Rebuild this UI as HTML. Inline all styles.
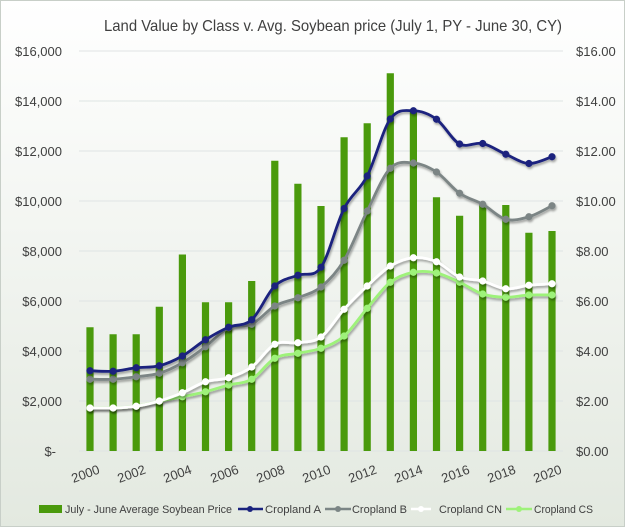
<!DOCTYPE html>
<html><head><meta charset="utf-8"><style>
html,body{margin:0;padding:0;}
body{width:625px;height:527px;overflow:hidden;font-family:"Liberation Sans",sans-serif;}
</style></head><body>
<svg id="s" width="625" height="527" xmlns="http://www.w3.org/2000/svg" font-family="Liberation Sans, sans-serif">
<defs>
<linearGradient id="bg" x1="0" y1="0" x2="0" y2="1">
<stop offset="0" stop-color="#ffffff"/><stop offset="1" stop-color="#e3e9e0"/>
</linearGradient>
<filter id="sh" x="-5%" y="-5%" width="110%" height="120%"><feDropShadow dx="1" dy="2" stdDeviation="1" flood-color="#000" flood-opacity="0.35"/></filter>
</defs>
<rect x="0.5" y="0.5" width="624" height="526" fill="url(#bg)" stroke="#c8cfc8"/>
<text x="104" y="31" font-size="16" fill="#404040" textLength="458" lengthAdjust="spacingAndGlyphs">Land Value by Class v. Avg. Soybean price (July 1, PY - June 30, CY)</text>
<g id="grid" stroke="#dfe4e4" stroke-width="1"></g>
<g font-size="13" fill="#404040" text-anchor="end">
<text x="62" y="56">$16,000</text><text x="62" y="106">$14,000</text><text x="62" y="156">$12,000</text><text x="62" y="206">$10,000</text><text x="62" y="256">$8,000</text><text x="62" y="306">$6,000</text><text x="62" y="356">$4,000</text><text x="62" y="406">$2,000</text><text x="56" y="456">$-</text>
</g>
<g font-size="13" fill="#404040" text-anchor="start">
<text x="576" y="56">$16.00</text><text x="576" y="106">$14.00</text><text x="576" y="156">$12.00</text><text x="576" y="206">$10.00</text><text x="576" y="256">$8.00</text><text x="576" y="306">$6.00</text><text x="576" y="356">$4.00</text><text x="576" y="406">$2.00</text><text x="576" y="456">$0.00</text>
</g>
<g id="bars" fill="#4a9a0c"></g>
<g id="lines"></g>
<g font-size="13" fill="#404040" text-anchor="middle">
<text transform="translate(87,478) rotate(-20)">2000</text>
<text transform="translate(133,478) rotate(-20)">2002</text>
<text transform="translate(179,478) rotate(-20)">2004</text>
<text transform="translate(226,478) rotate(-20)">2006</text>
<text transform="translate(272,478) rotate(-20)">2008</text>
<text transform="translate(318,478) rotate(-20)">2010</text>
<text transform="translate(364,478) rotate(-20)">2012</text>
<text transform="translate(410,478) rotate(-20)">2014</text>
<text transform="translate(457,478) rotate(-20)">2016</text>
<text transform="translate(503,478) rotate(-20)">2018</text>
<text transform="translate(549,478) rotate(-20)">2020</text>
</g>
<g font-size="11" fill="#404040">
<rect x="39" y="505" width="23" height="8" fill="#4a9a0c"/>
<text x="65" y="513" textLength="167" lengthAdjust="spacingAndGlyphs">July - June Average Soybean Price</text>
<line x1="238" y1="509" x2="263" y2="509" stroke="#1a237e" stroke-width="2.5"/><circle cx="250" cy="509" r="3" fill="#1a237e"/>
<text x="265" y="513" textLength="56" lengthAdjust="spacingAndGlyphs">Cropland A</text>
<line x1="325" y1="509" x2="351" y2="509" stroke="#7b8585" stroke-width="2.5"/><circle cx="338" cy="509" r="3" fill="#7b8585"/>
<text x="352" y="513" textLength="55" lengthAdjust="spacingAndGlyphs">Cropland B</text>
<line x1="411" y1="509" x2="431" y2="509" stroke="#ffffff" stroke-width="2.5"/><circle cx="421" cy="509" r="3" fill="#ffffff"/>
<text x="439" y="513" textLength="63" lengthAdjust="spacingAndGlyphs">Cropland CN</text>
<line x1="506" y1="509" x2="532" y2="509" stroke="#9ef27a" stroke-width="2.5"/><circle cx="519" cy="509" r="3" fill="#9ef27a"/>
<text x="534" y="513" textLength="59" lengthAdjust="spacingAndGlyphs">Cropland CS</text>
</g>
</svg>
<script>
var NS="http://www.w3.org/2000/svg";
function el(t,a,p){var e=document.createElementNS(NS,t);for(var k in a)e.setAttribute(k,a[k]);p.appendChild(e);return e;}
var g=document.getElementById("grid");
for(var i=0;i<=8;i++){var y=451-i*50;el("line",{x1:79,x2:563,y1:y,y2:y},g);}
function X(i){return 90+i*23.1;}
function Y(v){return 451-v*25;}
var bars=[4.95,4.67,4.67,5.77,7.86,5.95,5.95,6.8,11.61,10.69,9.8,12.55,13.11,15.11,13.6,10.15,9.41,9.87,9.84,8.73,8.8];
var bg=document.getElementById("bars");
bars.forEach(function(v,i){el("rect",{x:X(i)-3.6,y:Y(v),width:7.2,height:451-Y(v)},bg);});
var series=[
["#7b8585",[2.87,2.87,2.97,3.11,3.53,4.17,4.93,5.07,5.8,6.13,6.56,7.63,9.6,11.31,11.52,11.16,10.31,9.87,9.27,9.37,9.81]],
["#9ef27a",[1.72,1.72,1.79,1.99,2.17,2.37,2.64,2.87,3.71,3.91,4.11,4.6,5.71,6.75,7.15,7.12,6.75,6.28,6.15,6.24,6.24]],
["#ffffff",[1.72,1.72,1.79,2.0,2.33,2.77,2.93,3.36,4.27,4.33,4.56,5.67,6.6,7.4,7.73,7.57,6.96,6.8,6.49,6.63,6.69]],
["#1a237e",[3.21,3.19,3.33,3.41,3.8,4.45,4.95,5.25,6.6,7.03,7.35,9.7,11.0,13.28,13.61,13.27,12.28,12.3,11.87,11.5,11.77]]];
var lg=document.getElementById("lines");
series.forEach(function(s){
 var p=s[1].map(function(v,i){return [X(i),Y(v)];});
 var d="M"+p[0][0]+","+p[0][1];
 for(var i=0;i<p.length-1;i++){
  var p0=p[i-1]||p[i],p1=p[i],p2=p[i+1],p3=p[i+2]||p2,t=6;
  var c1=[p1[0]+(p2[0]-p0[0])/t,p1[1]+(p2[1]-p0[1])/t],c2=[p2[0]-(p3[0]-p1[0])/t,p2[1]-(p3[1]-p1[1])/t];
  d+=" C"+c1+" "+c2+" "+p2;
 }
 var grp=el("g",{filter:"url(#sh)"},lg);
 el("path",{d:d,fill:"none",stroke:s[0],"stroke-width":2.8},grp);
 p.forEach(function(q){el("circle",{cx:q[0],cy:q[1],r:3.6,fill:s[0]},grp);});
});
</script>
</body></html>
